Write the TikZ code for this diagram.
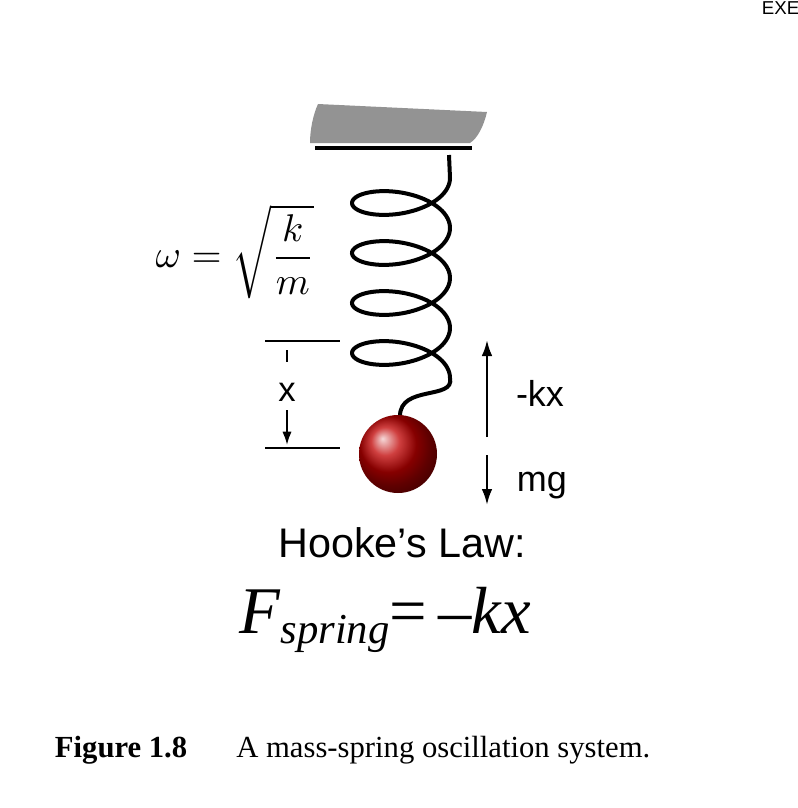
\documentclass[tikz,border=0pt]{standalone}
\usepackage{fontspec}
\setmainfont{Liberation Serif}
\setsansfont{Liberation Sans}
\usetikzlibrary{arrows.meta}
\tikzset{every picture/.style={line width=0.75pt}}
\tikzset{
	guide/.style={line width=1.5pt},
	force/.style={line width=1.8pt,-{Latex[length=12pt,width=8pt]}},
	sanslabel/.style={font=\sffamily\fontsize{27}{30}\selectfont}
}

\begin{document}
\begin{tikzpicture}[x=0.75pt,y=0.75pt,yscale=-1,xscale=1]
	\useasboundingbox (0,0) rectangle (798,808);
	\clip (0,0) rectangle (798,808);

	%Shape: ceiling plate
	\fill [gray!85] (318,104) -- (487,112) .. controls (484,125) and (478,138) .. (470,143) -- (310,143) .. controls (310,130) and (313,115) .. (318,104) -- cycle;
	\draw [line width=3.5pt] (315,148) -- (472,148);

	%Curve Lines: spring coils
	\draw [line width=3pt, domain=0:1440, samples=300, smooth] plot ({401+49*cos(\x)}, {178+\x/360*50+23*sin(\x)});
	\draw [line width=3pt] (449,155) -- (450,178);
	\draw [line width=3pt] (450,378) .. controls (455,400) and (400,385) .. (400,416);

	%Shape: mass
	\shade [ball color=red!75!black] (398,454) circle (39);

	%Straight Lines: displacement guides
	\coordinate (top) at (265,341);
	\coordinate (bot) at (265,448);
	\draw [guide] (top) -- ++(75,0);
	\draw [guide] (bot) -- ++(75,0);
	\draw [guide] (287,350) -- (287,362);
	\draw [guide,-{Latex[length=10pt,width=7pt]}] (287,410) -- (287,445);
	\node (xlab) at (287,392) {\sffamily\fontsize{26}{28}\selectfont x};

	%Straight Lines: forces
	\coordinate (fup) at (487,437);
	\coordinate (fdown) at (487,455);
	\draw [force] (fup) -- (487,340);
	\draw [force] (fdown) -- (487,505);
	\node [sanslabel] (kx) at (540,393) {-kx};
	\node [sanslabel] (mg) at (542,486) {mg};

	% Text Node
	\node [scale=2.9] (omega) at (235,252) {$\omega=\sqrt{\displaystyle\frac{k}{m}}$};
	% Text Node
	\node [font=\sffamily\fontsize{31}{34}\selectfont] (hooke) at (402,543) {Hooke's Law:};
	% Text Node
	\node (law) at (385,620) {\fontsize{50}{56}\selectfont\textit{F}\raisebox{-0.35ex}{\fontsize{32}{34}\selectfont\textit{spring}}=\,\textit{–kx}};
	% Text Node
	\node [anchor=west] (cap) at (50,750) {\fontsize{23}{26}\selectfont\textbf{Figure 1.8}\hspace{1.6em}A mass-spring oscillation system.};
	% Text Node
	\node [anchor=west] (exe) at (757,8) {\sffamily\fontsize{14}{16}\selectfont EXE};
\end{tikzpicture}
\end{document}
